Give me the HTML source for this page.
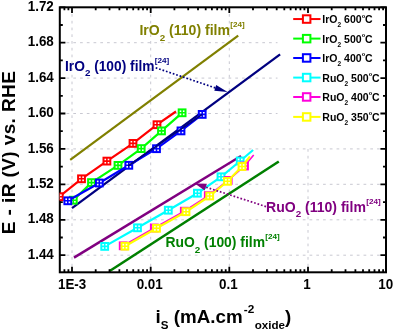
<!DOCTYPE html><html><head><meta charset="utf-8"><style>html,body{margin:0;padding:0;background:#fff}svg{display:block}</style></head><body><svg width="394" height="331" viewBox="0 0 394 331" font-family="'Liberation Sans', sans-serif" font-weight="bold">
<rect width="394" height="331" fill="#fff"/>
<path d="M72.0 7.3V272.3M150.7 7.3V272.3M229.3 7.3V272.3M308.0 7.3V272.3M59.8 255.2H386.0M59.8 219.8H386.0M59.8 184.3H386.0M59.8 148.9H386.0M59.8 113.5H386.0M59.8 78.1H386.0M59.8 42.7H386.0" stroke="#c2c2cc" stroke-width="0.9" stroke-dasharray="2.7 4.05" fill="none"/>
<rect x="277.5" y="9.5" width="107.5" height="136" fill="#fff"/>
<path d="M70.2 159.8L238.2 35.7" stroke="#808000" stroke-width="2.2" fill="none"/>
<path d="M72.0 208.2L280.1 54.3" stroke="#000080" stroke-width="2.3" fill="none"/>
<path d="M74.0 257.6L241.0 156.0" stroke="#800080" stroke-width="2.5" fill="none"/>
<path d="M109.7 271.0L278.8 161.5" stroke="#008000" stroke-width="2.6" fill="none"/>
<rect x="59.8" y="7.3" width="326.2" height="265.0" fill="none" stroke="#000" stroke-width="2"/>
<path d="M64.4 272.3v-3.0M64.4 7.3v3.0M68.4 272.3v-3.0M68.4 7.3v3.0M72.0 272.3v-5.6M72.0 7.3v5.6M95.7 272.3v-3.0M95.7 7.3v3.0M109.5 272.3v-3.0M109.5 7.3v3.0M119.4 272.3v-3.0M119.4 7.3v3.0M127.0 272.3v-3.0M127.0 7.3v3.0M133.2 272.3v-3.0M133.2 7.3v3.0M138.5 272.3v-3.0M138.5 7.3v3.0M143.0 272.3v-3.0M143.0 7.3v3.0M147.1 272.3v-3.0M147.1 7.3v3.0M150.7 272.3v-5.6M150.7 7.3v5.6M174.4 272.3v-3.0M174.4 7.3v3.0M188.2 272.3v-3.0M188.2 7.3v3.0M198.0 272.3v-3.0M198.0 7.3v3.0M205.7 272.3v-3.0M205.7 7.3v3.0M211.9 272.3v-3.0M211.9 7.3v3.0M217.2 272.3v-3.0M217.2 7.3v3.0M221.7 272.3v-3.0M221.7 7.3v3.0M225.7 272.3v-3.0M225.7 7.3v3.0M229.3 272.3v-5.6M229.3 7.3v5.6M253.0 272.3v-3.0M253.0 7.3v3.0M266.9 272.3v-3.0M266.9 7.3v3.0M276.7 272.3v-3.0M276.7 7.3v3.0M284.3 272.3v-3.0M284.3 7.3v3.0M290.6 272.3v-3.0M290.6 7.3v3.0M295.8 272.3v-3.0M295.8 7.3v3.0M300.4 272.3v-3.0M300.4 7.3v3.0M304.4 272.3v-3.0M304.4 7.3v3.0M308.0 272.3v-5.6M308.0 7.3v5.6M331.7 272.3v-3.0M331.7 7.3v3.0M345.5 272.3v-3.0M345.5 7.3v3.0M355.4 272.3v-3.0M355.4 7.3v3.0M363.0 272.3v-3.0M363.0 7.3v3.0M369.2 272.3v-3.0M369.2 7.3v3.0M374.5 272.3v-3.0M374.5 7.3v3.0M379.1 272.3v-3.0M379.1 7.3v3.0M383.1 272.3v-3.0M383.1 7.3v3.0M59.8 7.3h5.6M386.0 7.3h-5.6M59.8 25.0h3.0M386.0 25.0h-3.0M59.8 42.7h5.6M386.0 42.7h-5.6M59.8 60.4h3.0M386.0 60.4h-3.0M59.8 78.1h5.6M386.0 78.1h-5.6M59.8 95.8h3.0M386.0 95.8h-3.0M59.8 113.5h5.6M386.0 113.5h-5.6M59.8 131.2h3.0M386.0 131.2h-3.0M59.8 148.9h5.6M386.0 148.9h-5.6M59.8 166.6h3.0M386.0 166.6h-3.0M59.8 184.3h5.6M386.0 184.3h-5.6M59.8 202.1h3.0M386.0 202.1h-3.0M59.8 219.8h5.6M386.0 219.8h-5.6M59.8 237.5h3.0M386.0 237.5h-3.0M59.8 255.2h5.6M386.0 255.2h-5.6" stroke="#000" stroke-width="1.8" fill="none"/>
<clipPath id="pa"><rect x="59.699999999999996" y="7.3" width="326.3" height="265.0"/></clipPath><g clip-path="url(#pa)">
<path d="M59.3 196.7L81.5 178.8L106.9 161.1L133.0 143.4L157.0 124.7L176.0 111.5" stroke="#ff0000" stroke-width="2.2" fill="none"/><rect x="55.9" y="193.3" width="6.8" height="6.8" fill="#fff" stroke="#ff0000" stroke-width="2"/><path d="M55.9 196.7H62.7M59.3 193.3V200.1" stroke="#ff0000" stroke-width="1.6" fill="none"/><rect x="78.1" y="175.4" width="6.8" height="6.8" fill="#fff" stroke="#ff0000" stroke-width="2"/><path d="M78.1 178.8H84.9M81.5 175.4V182.2" stroke="#ff0000" stroke-width="1.6" fill="none"/><rect x="103.5" y="157.7" width="6.8" height="6.8" fill="#fff" stroke="#ff0000" stroke-width="2"/><path d="M103.5 161.1H110.3M106.9 157.7V164.5" stroke="#ff0000" stroke-width="1.6" fill="none"/><rect x="129.6" y="140.0" width="6.8" height="6.8" fill="#fff" stroke="#ff0000" stroke-width="2"/><path d="M129.6 143.4H136.4M133.0 140.0V146.8" stroke="#ff0000" stroke-width="1.6" fill="none"/><rect x="153.6" y="121.3" width="6.8" height="6.8" fill="#fff" stroke="#ff0000" stroke-width="2"/><path d="M153.6 124.7H160.4M157.0 121.3V128.1" stroke="#ff0000" stroke-width="1.6" fill="none"/>
<path d="M73.3 200.2L91.5 182.6L118.0 165.4L141.2 148.6L161.5 130.9L182.1 112.8" stroke="#00ff00" stroke-width="2.2" fill="none"/><rect x="69.9" y="196.8" width="6.8" height="6.8" fill="#fff" stroke="#00ff00" stroke-width="2"/><path d="M69.9 200.2H76.7M73.3 196.8V203.6" stroke="#00ff00" stroke-width="1.6" fill="none"/><rect x="88.1" y="179.2" width="6.8" height="6.8" fill="#fff" stroke="#00ff00" stroke-width="2"/><path d="M88.1 182.6H94.9M91.5 179.2V186.0" stroke="#00ff00" stroke-width="1.6" fill="none"/><rect x="114.6" y="162.0" width="6.8" height="6.8" fill="#fff" stroke="#00ff00" stroke-width="2"/><path d="M114.6 165.4H121.4M118.0 162.0V168.8" stroke="#00ff00" stroke-width="1.6" fill="none"/><rect x="137.8" y="145.2" width="6.8" height="6.8" fill="#fff" stroke="#00ff00" stroke-width="2"/><path d="M137.8 148.6H144.6M141.2 145.2V152.0" stroke="#00ff00" stroke-width="1.6" fill="none"/><rect x="158.1" y="127.5" width="6.8" height="6.8" fill="#fff" stroke="#00ff00" stroke-width="2"/><path d="M158.1 130.9H164.9M161.5 127.5V134.3" stroke="#00ff00" stroke-width="1.6" fill="none"/><rect x="178.7" y="109.4" width="6.8" height="6.8" fill="#fff" stroke="#00ff00" stroke-width="2"/><path d="M178.7 112.8H185.5M182.1 109.4V116.2" stroke="#00ff00" stroke-width="1.6" fill="none"/>
<path d="M67.8 200.8L99.3 183.0L128.8 165.3L156.5 148.7L181.0 130.9L202.2 114.4" stroke="#0000ff" stroke-width="2.2" fill="none"/><rect x="64.4" y="197.4" width="6.8" height="6.8" fill="#fff" stroke="#0000ff" stroke-width="2"/><path d="M64.4 200.8H71.2M67.8 197.4V204.2" stroke="#0000ff" stroke-width="1.6" fill="none"/><rect x="95.9" y="179.6" width="6.8" height="6.8" fill="#fff" stroke="#0000ff" stroke-width="2"/><path d="M95.9 183.0H102.7M99.3 179.6V186.4" stroke="#0000ff" stroke-width="1.6" fill="none"/><rect x="125.4" y="161.9" width="6.8" height="6.8" fill="#fff" stroke="#0000ff" stroke-width="2"/><path d="M125.4 165.3H132.2M128.8 161.9V168.7" stroke="#0000ff" stroke-width="1.6" fill="none"/><rect x="153.1" y="145.3" width="6.8" height="6.8" fill="#fff" stroke="#0000ff" stroke-width="2"/><path d="M153.1 148.7H159.9M156.5 145.3V152.1" stroke="#0000ff" stroke-width="1.6" fill="none"/><rect x="177.6" y="127.5" width="6.8" height="6.8" fill="#fff" stroke="#0000ff" stroke-width="2"/><path d="M177.6 130.9H184.4M181.0 127.5V134.3" stroke="#0000ff" stroke-width="1.6" fill="none"/><rect x="198.8" y="111.0" width="6.8" height="6.8" fill="#fff" stroke="#0000ff" stroke-width="2"/><path d="M198.8 114.4H205.6M202.2 111.0V117.8" stroke="#0000ff" stroke-width="1.6" fill="none"/>
<path d="M128.0 166.0L202.2 114.4" stroke="#000080" stroke-width="1.6" fill="none"/>
<path d="M104.7 246.4L137.5 227.8L168.3 210.2L197.4 193.2L221.0 176.8L240.2 161.0L253.1 150.0" stroke="#00ffff" stroke-width="2.2" fill="none"/><rect x="101.3" y="243.0" width="6.8" height="6.8" fill="#fff" stroke="#00ffff" stroke-width="2"/><path d="M101.3 246.4H108.1M104.7 243.0V249.8" stroke="#00ffff" stroke-width="1.6" fill="none"/><rect x="134.1" y="224.4" width="6.8" height="6.8" fill="#fff" stroke="#00ffff" stroke-width="2"/><path d="M134.1 227.8H140.9M137.5 224.4V231.2" stroke="#00ffff" stroke-width="1.6" fill="none"/><rect x="164.9" y="206.8" width="6.8" height="6.8" fill="#fff" stroke="#00ffff" stroke-width="2"/><path d="M164.9 210.2H171.7M168.3 206.8V213.6" stroke="#00ffff" stroke-width="1.6" fill="none"/><rect x="194.0" y="189.8" width="6.8" height="6.8" fill="#fff" stroke="#00ffff" stroke-width="2"/><path d="M194.0 193.2H200.8M197.4 189.8V196.6" stroke="#00ffff" stroke-width="1.6" fill="none"/><rect x="217.6" y="173.4" width="6.8" height="6.8" fill="#fff" stroke="#00ffff" stroke-width="2"/><path d="M217.6 176.8H224.4M221.0 173.4V180.2" stroke="#00ffff" stroke-width="1.6" fill="none"/><rect x="236.8" y="157.6" width="6.8" height="6.8" fill="#fff" stroke="#00ffff" stroke-width="2"/><path d="M236.8 161.0H243.6M240.2 157.6V164.4" stroke="#00ffff" stroke-width="1.6" fill="none"/>
<path d="M123.2 245.8L154.3 228.0L184.3 211.2L208.3 195.6L228.2 180.4L244.5 166.0L253.7 155.0" stroke="#ff00dc" stroke-width="1.6" fill="none"/><rect x="119.8" y="242.4" width="6.8" height="6.8" fill="#fff" stroke="#ff00dc" stroke-width="2"/><path d="M119.8 245.8H126.6M123.2 242.4V249.2" stroke="#ff00dc" stroke-width="1.6" fill="none"/><rect x="150.9" y="224.6" width="6.8" height="6.8" fill="#fff" stroke="#ff00dc" stroke-width="2"/><path d="M150.9 228.0H157.7M154.3 224.6V231.4" stroke="#ff00dc" stroke-width="1.6" fill="none"/><rect x="180.9" y="207.8" width="6.8" height="6.8" fill="#fff" stroke="#ff00dc" stroke-width="2"/><path d="M180.9 211.2H187.7M184.3 207.8V214.6" stroke="#ff00dc" stroke-width="1.6" fill="none"/><rect x="204.9" y="192.2" width="6.8" height="6.8" fill="#fff" stroke="#ff00dc" stroke-width="2"/><path d="M204.9 195.6H211.7M208.3 192.2V199.0" stroke="#ff00dc" stroke-width="1.6" fill="none"/><rect x="224.8" y="177.0" width="6.8" height="6.8" fill="#fff" stroke="#ff00dc" stroke-width="2"/><path d="M224.8 180.4H231.6M228.2 177.0V183.8" stroke="#ff00dc" stroke-width="1.6" fill="none"/><rect x="241.1" y="162.6" width="6.8" height="6.8" fill="#fff" stroke="#ff00dc" stroke-width="2"/><path d="M241.1 166.0H247.9M244.5 162.6V169.4" stroke="#ff00dc" stroke-width="1.6" fill="none"/>
<path d="M124.9 246.2L156.5 228.3L186.0 211.7L209.7 196.0L227.5 181.3L242.0 166.5L250.0 156.5" stroke="#ffff00" stroke-width="2.2" fill="none"/><rect x="121.5" y="242.8" width="6.8" height="6.8" fill="#fff" stroke="#ffff00" stroke-width="2"/><path d="M121.5 246.2H128.3M124.9 242.8V249.6" stroke="#ffff00" stroke-width="1.6" fill="none"/><rect x="153.1" y="224.9" width="6.8" height="6.8" fill="#fff" stroke="#ffff00" stroke-width="2"/><path d="M153.1 228.3H159.9M156.5 224.9V231.7" stroke="#ffff00" stroke-width="1.6" fill="none"/><rect x="182.6" y="208.3" width="6.8" height="6.8" fill="#fff" stroke="#ffff00" stroke-width="2"/><path d="M182.6 211.7H189.4M186.0 208.3V215.1" stroke="#ffff00" stroke-width="1.6" fill="none"/><rect x="206.3" y="192.6" width="6.8" height="6.8" fill="#fff" stroke="#ffff00" stroke-width="2"/><path d="M206.3 196.0H213.1M209.7 192.6V199.4" stroke="#ffff00" stroke-width="1.6" fill="none"/><rect x="224.1" y="177.9" width="6.8" height="6.8" fill="#fff" stroke="#ffff00" stroke-width="2"/><path d="M224.1 181.3H230.9M227.5 177.9V184.7" stroke="#ffff00" stroke-width="1.6" fill="none"/><rect x="238.6" y="163.1" width="6.8" height="6.8" fill="#fff" stroke="#ffff00" stroke-width="2"/><path d="M238.6 166.5H245.4M242.0 163.1V169.9" stroke="#ffff00" stroke-width="1.6" fill="none"/>
</g>
<path d="M155.7 67.8L215.3 87.9" stroke="#000080" stroke-width="1.7" stroke-dasharray="1.7 1.9" fill="none"/><path d="M227.6 92.0L214.3 90.7L216.2 85.0Z" fill="#000080"/>
<path d="M266.0 206.6L205.7 187.1" stroke="#800080" stroke-width="1.7" stroke-dasharray="1.7 1.9" fill="none"/><path d="M194.8 183.6L206.9 183.7L204.6 190.6Z" fill="#800080"/>
<text transform="translate(53.8,258.8) scale(0.925,1)" font-size="14.5" text-anchor="end">1.44</text>
<text transform="translate(53.8,223.4) scale(0.925,1)" font-size="14.5" text-anchor="end">1.48</text>
<text transform="translate(53.8,187.9) scale(0.925,1)" font-size="14.5" text-anchor="end">1.52</text>
<text transform="translate(53.8,152.5) scale(0.925,1)" font-size="14.5" text-anchor="end">1.56</text>
<text transform="translate(53.8,117.1) scale(0.925,1)" font-size="14.5" text-anchor="end">1.60</text>
<text transform="translate(53.8,81.7) scale(0.925,1)" font-size="14.5" text-anchor="end">1.64</text>
<text transform="translate(53.8,46.3) scale(0.925,1)" font-size="14.5" text-anchor="end">1.68</text>
<text transform="translate(53.8,10.9) scale(0.925,1)" font-size="14.5" text-anchor="end">1.72</text>
<text transform="translate(72.1,289) scale(0.925,1)" font-size="14.5" text-anchor="middle">1E-3</text>
<text transform="translate(149.7,289) scale(0.925,1)" font-size="14.5" text-anchor="middle">0.01</text>
<text transform="translate(228.3,289) scale(0.925,1)" font-size="14.5" text-anchor="middle">0.1</text>
<text transform="translate(307.0,289) scale(0.925,1)" font-size="14.5" text-anchor="middle">1</text>
<text transform="translate(385.7,289) scale(0.925,1)" font-size="14.5" text-anchor="middle">10</text>
<text transform="translate(15.2,70.7) rotate(-90)" font-size="19" letter-spacing="0.4" text-anchor="end">E - iR (V) vs. RHE</text>
<text x="155.6" y="322.6" font-size="18.8">i<tspan font-size="11.6" dy="6">S</tspan><tspan dy="-6"> (mA.cm</tspan><tspan font-size="11.8" dy="-9.5" dx="1.2">-2</tspan><tspan font-size="11.6" dy="16.3" dx="0.4">oxide</tspan><tspan dy="-6.8">)</tspan></text>
<text x="139.4" y="34.9" font-size="14.05" fill="#808000">IrO<tspan font-size="9.8" dy="5.6">2</tspan><tspan dy="-5.6"> (110) film</tspan><tspan font-size="8.1" dy="-7.6" dx="0.3">[24]</tspan></text>
<text x="65.0" y="70.6" font-size="13.75" fill="#000080">IrO<tspan font-size="9.8" dy="5.6">2</tspan><tspan dy="-5.6"> (100) film</tspan><tspan font-size="8.1" dy="-7.6" dx="0.3">[24]</tspan></text>
<text x="266.0" y="211.5" font-size="14.05" fill="#800080">RuO<tspan font-size="9.8" dy="5.6">2</tspan><tspan dy="-5.6"> (110) film</tspan><tspan font-size="8.1" dy="-7.6" dx="0.3">[24]</tspan></text>
<text x="165.4" y="247.0" font-size="13.9" fill="#008000">RuO<tspan font-size="9.8" dy="5.6">2</tspan><tspan dy="-5.6"> (100) film</tspan><tspan font-size="8.1" dy="-7.6" dx="0.3">[24]</tspan></text>
<path d="M293.2 19.05H320.5" stroke="#ff0000" stroke-width="2"/>
<rect x="302.9" y="15.3" width="7.5" height="7.5" fill="#fff" stroke="#ff0000" stroke-width="2"/>
<text transform="translate(322.3,23.1) scale(0.94,1)" font-size="11.2">IrO<tspan font-size="7" dy="4.2">2</tspan><tspan dy="-4.2"> 600</tspan><tspan font-size="6" dy="-5.6">o</tspan><tspan dy="5.6">C</tspan></text>
<path d="M293.2 38.6H320.5" stroke="#00ff00" stroke-width="2"/>
<rect x="302.9" y="34.9" width="7.5" height="7.5" fill="#fff" stroke="#00ff00" stroke-width="2"/>
<text transform="translate(322.3,42.6) scale(0.94,1)" font-size="11.2">IrO<tspan font-size="7" dy="4.2">2</tspan><tspan dy="-4.2"> 500</tspan><tspan font-size="6" dy="-5.6">o</tspan><tspan dy="5.6">C</tspan></text>
<path d="M293.2 58.0H320.5" stroke="#0000ff" stroke-width="2"/>
<rect x="302.9" y="54.2" width="7.5" height="7.5" fill="#fff" stroke="#0000ff" stroke-width="2"/>
<text transform="translate(322.3,62.0) scale(0.94,1)" font-size="11.2">IrO<tspan font-size="7" dy="4.2">2</tspan><tspan dy="-4.2"> 400</tspan><tspan font-size="6" dy="-5.6">o</tspan><tspan dy="5.6">C</tspan></text>
<path d="M293.2 77.6H320.5" stroke="#00ffff" stroke-width="2"/>
<rect x="302.9" y="73.8" width="7.5" height="7.5" fill="#fff" stroke="#00ffff" stroke-width="2"/>
<text transform="translate(322.3,81.6) scale(0.94,1)" font-size="11.2">RuO<tspan font-size="7" dy="4.2">2</tspan><tspan dy="-4.2"> 500</tspan><tspan font-size="6" dy="-5.6">o</tspan><tspan dy="5.6">C</tspan></text>
<path d="M293.2 97.0H320.5" stroke="#ff00dc" stroke-width="2"/>
<rect x="302.9" y="93.2" width="7.5" height="7.5" fill="#fff" stroke="#ff00dc" stroke-width="2"/>
<text transform="translate(322.3,101.0) scale(0.94,1)" font-size="11.2">RuO<tspan font-size="7" dy="4.2">2</tspan><tspan dy="-4.2"> 400</tspan><tspan font-size="6" dy="-5.6">o</tspan><tspan dy="5.6">C</tspan></text>
<path d="M293.2 116.9H320.5" stroke="#ffff00" stroke-width="2"/>
<rect x="302.9" y="113.2" width="7.5" height="7.5" fill="#fff" stroke="#ffff00" stroke-width="2"/>
<text transform="translate(322.3,120.9) scale(0.94,1)" font-size="11.2">RuO<tspan font-size="7" dy="4.2">2</tspan><tspan dy="-4.2"> 350</tspan><tspan font-size="6" dy="-5.6">o</tspan><tspan dy="5.6">C</tspan></text>
</svg></body></html>
